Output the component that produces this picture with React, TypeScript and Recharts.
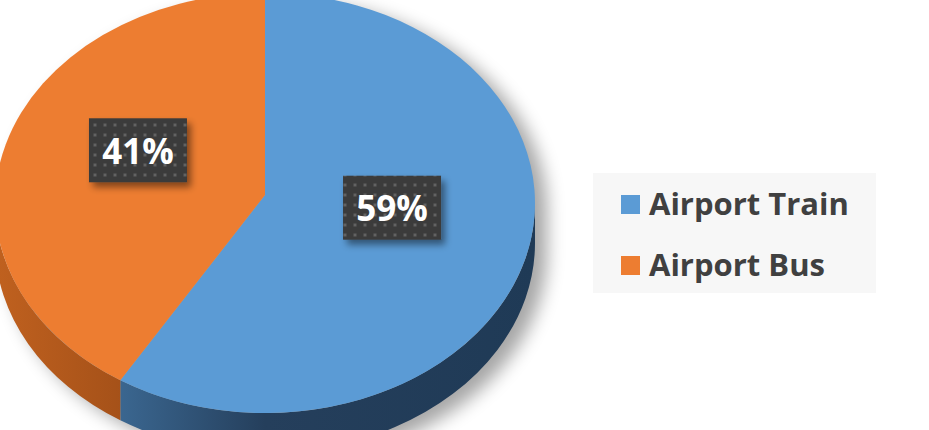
import { Legend, Pie, PieChart } from 'recharts';

// Share of travellers by mode (percent)
const modes = ['Airport Train', 'Airport Bus'];
const shares = [59, 41];
const faceColors = ['#5b9bd5', '#ed7d31'];
const sideGradients = ['sideBlue', 'sideOrange'];

const rows = modes.map((name, i) => ({ name, value: shares[i], fill: faceColors[i] }));

const W = 929;
const H = 430;
const CX = 265;
const CY = 195;
const R = 270;
const TILT = 0.778; // vertical squash of the top face
const FACE_DY = 8; // ellipse centre sits a bit below the wedge vertex
const DEPTH = 40;
const RAD = Math.PI / 180;

const pt = (cx: number, ecy: number, a: number, dy = 0) =>
  `${cx + R * Math.cos(a * RAD)},${ecy - R * TILT * Math.sin(a * RAD) + dy}`;

// part of [lo, hi] that faces the viewer (lower half of the ellipse)
function frontRange(lo: number, hi: number): [number, number] | null {
  for (const k of [-720, -360, 0, 360]) {
    const a = Math.max(lo, -180 + k);
    const b = Math.min(hi, 0 + k);
    if (b > a) return [a, b];
  }
  return null;
}

function Slice(props: any) {
  const { cx, cy, startAngle, endAngle, index } = props;
  const ecy = cy + FACE_DY;
  const rx = R;
  const ry = R * TILT;
  const large = Math.abs(endAngle - startAngle) > 180 ? 1 : 0;
  const top = `M${cx},${cy} L${pt(cx, ecy, startAngle)} A${rx},${ry} 0 ${large} 1 ${pt(cx, ecy, endAngle)} Z`;
  const fr = frontRange(Math.min(startAngle, endAngle), Math.max(startAngle, endAngle));
  const side = fr
    ? `M${pt(cx, ecy, fr[1])} A${rx},${ry} 0 0 1 ${pt(cx, ecy, fr[0])} L${pt(cx, ecy, fr[0], DEPTH)} A${rx},${ry} 0 0 0 ${pt(cx, ecy, fr[1], DEPTH)} Z`
    : null;
  const outline = `M${cx - rx},${ecy} A${rx},${ry} 0 0 1 ${cx + rx},${ecy} L${cx + rx},${ecy + DEPTH} A${rx},${ry} 0 0 1 ${cx - rx},${ecy + DEPTH} Z`;
  return (
    <g>
      {index === 0 && (
        <>
          <defs>
            <linearGradient id="sideBlue" gradientUnits="userSpaceOnUse" x1={cx - rx} x2={cx + rx} y1={0} y2={0}>
              <stop offset="0.2" stopColor="#3d6b96" />
              <stop offset="0.5" stopColor="#253f5c" />
              <stop offset="1" stopColor="#1f3a56" />
            </linearGradient>
            <linearGradient id="sideOrange" gradientUnits="userSpaceOnUse" x1={cx - rx} x2={cx - rx + 160} y1={0} y2={0}>
              <stop offset="0" stopColor="#c0611f" />
              <stop offset="1" stopColor="#9e4d17" />
            </linearGradient>
            <filter id="pieShadow" x="-20%" y="-20%" width="140%" height="140%">
              <feGaussianBlur stdDeviation="9" />
            </filter>
            <filter id="boxShadow" x="-30%" y="-30%" width="160%" height="160%">
              <feDropShadow dx="4" dy="5" stdDeviation="3.5" floodColor="#000" floodOpacity="0.45" />
            </filter>
            <pattern id="dots" width="10" height="10" patternUnits="userSpaceOnUse">
              <rect width="10" height="10" fill="#3a3a3a" />
              <rect x="3.5" y="3.5" width="3" height="3" fill="#626262" />
            </pattern>
          </defs>
          <path d={outline} transform="translate(12,8)" fill="#000" opacity={0.35} filter="url(#pieShadow)" />
        </>
      )}
      {side && <path d={side} fill={`url(#${sideGradients[index]})`} />}
      <path d={top} fill={faceColors[index]} />
    </g>
  );
}

function BoxLabel(props: any) {
  const { cx, cy, midAngle, percent } = props;
  const f = 0.49;
  const x = cx + f * R * Math.cos(midAngle * RAD);
  const y = cy - 16 - f * R * TILT * Math.sin(midAngle * RAD);
  return (
    <g>
      <rect x={x - 49} y={y - 32} width={98} height={64} fill="url(#dots)" filter="url(#boxShadow)" />
      <text
        x={x}
        y={y}
        textAnchor="middle"
        dominantBaseline="central"
        fill="#ffffff"
        fontFamily="'Open Sans', sans-serif"
        fontWeight={700}
        fontSize={35}
      >
        {`${Math.round(percent * 100)}%`}
      </text>
    </g>
  );
}

function LegendBox() {
  return (
    <div
      style={{
        background: '#f7f7f7',
        width: 283,
        height: 120,
        boxSizing: 'border-box',
        paddingLeft: 28,
        paddingTop: 0,
        fontFamily: "'Open Sans', sans-serif",
        fontWeight: 700,
        fontSize: 31,
        color: '#404040',
      }}
    >
      {rows.map((r) => (
        <div key={r.name} style={{ display: 'flex', alignItems: 'center', height: 61, lineHeight: '61px' }}>
          <span
            style={{
              display: 'inline-block',
              width: 19,
              height: 19,
              background: r.fill,
              marginRight: 9,
              marginTop: 2,
            }}
          />
          <span>{r.name}</span>
        </div>
      ))}
    </div>
  );
}

export default function App() {
  return (
    <div style={{ position: 'absolute', left: 0, top: 0, width: W, height: H, background: '#fff' }}>
      <PieChart width={W} height={H} margin={{ top: 0, right: 0, bottom: 0, left: 0 }}>
        <Pie
          data={rows}
          dataKey="value"
          nameKey="name"
          cx={CX}
          cy={CY}
          outerRadius={R}
          startAngle={90}
          endAngle={-270}
          stroke="none"
          isAnimationActive={false}
          shape={Slice}
          activeShape={Slice}
          inactiveShape={Slice}
          label={BoxLabel}
          labelLine={false}
        />
        <Legend content={LegendBox} wrapperStyle={{ left: 593, top: 173, width: 283, height: 120 }} />
      </PieChart>
    </div>
  );
}
